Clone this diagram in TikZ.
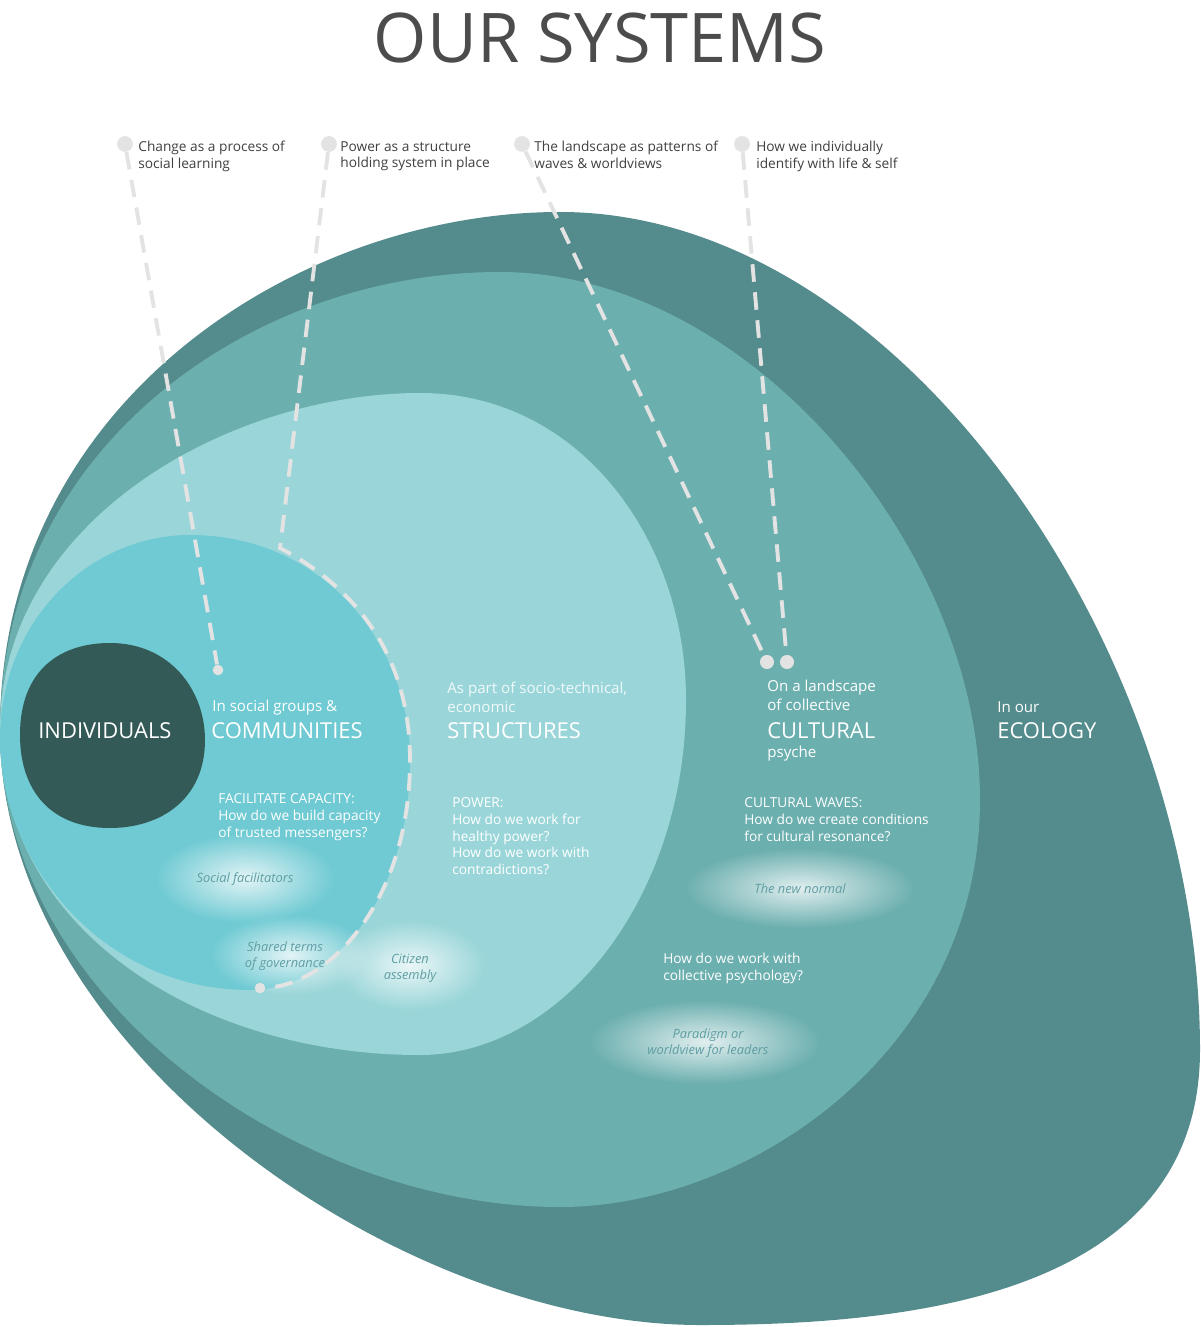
\documentclass[tikz,border=0pt]{standalone}
\usepackage{fontspec}
\setmainfont{Open Sans}
\usetikzlibrary{positioning,fadings}
\definecolor{ecocol}{HTML}{548B8C}
\definecolor{culcol}{HTML}{6CAFAF}
\definecolor{strcol}{HTML}{9AD6D9}
\definecolor{comcol}{HTML}{6FCAD3}
\definecolor{indcol}{HTML}{335A57}
\definecolor{pincol}{HTML}{E3E3E3}
\definecolor{cloudtxt}{HTML}{5E9EA3}
\tikzfading[name=softedge, inner color=transparent!0, outer color=transparent!100]
\tikzset{
  lbl/.style={text=white, font=\fontsize{8.6}{10.5}\selectfont, align=left, anchor=north west, inner sep=0pt},
  qst/.style={lbl, font=\fontsize{7.8}{9.6}\selectfont},
  big/.style={text=white, font=\fontsize{12.5}{15}\selectfont, anchor=north west, inner sep=0pt},
  top/.style={text=black!75, font=\fontsize{7.8}{9.6}\selectfont, align=left, anchor=north west, inner sep=0pt},
  cloud/.style={text=cloudtxt, font=\itshape\fontsize{7.3}{9.3}\selectfont, align=center, inner sep=0pt},
  link/.style={pincol, line width=2.2pt, dash pattern=on 10pt off 6pt},
  pin/.style={fill=pincol, draw=none, circle, minimum size=9pt, inner sep=0pt},
}
\begin{document}
\begin{tikzpicture}[x=0.02cm, y=-0.02cm]
\useasboundingbox (0,0) rectangle (1200,1327);
\node[text=black!70, font=\fontsize{39}{43}\selectfont] (title) at (600,38) {OUR SYSTEMS};

% the blobs
\fill[ecocol] (0,730) .. controls (0,400) and (300,212) .. (560,212) .. controls (900,212) and (1200,650) .. (1200,1050) .. controls (1200,1300) and (900,1325) .. (700,1325) .. controls (400,1325) and (0,1050) .. (0,730);
\fill[culcol] (0,730) .. controls (0,450) and (250,272) .. (500,272) .. controls (750,272) and (980,550) .. (980,800) .. controls (980,1050) and (750,1207) .. (560,1207) .. controls (300,1207) and (0,1000) .. (0,730);
\fill[strcol] (0,730) .. controls (0,520) and (230,393) .. (420,393) .. controls (580,393) and (686,540) .. (686,700) .. controls (686,900) and (560,1055) .. (420,1055) .. controls (200,1055) and (0,930) .. (0,730);
\fill[comcol] (0,740) .. controls (0,620) and (90,535) .. (190,535) .. controls (320,535) and (410,640) .. (410,760) .. controls (410,900) and (330,990) .. (250,990) .. controls (100,990) and (0,860) .. (0,740);
\fill[indcol] (20,735) .. controls (20,670) and (60,643) .. (110,643) .. controls (170,643) and (205,690) .. (205,740) .. controls (205,800) and (160,828) .. (110,828) .. controls (50,828) and (20,790) .. (20,735);

% soft clouds
\foreach \cx/\cy/\rx/\ry in {245/878/90/45, 290/955/80/40, 410/965/75/45, 800/888/115/40, 705/1042/115/42} {
  \fill[white, opacity=0.8, path fading=softedge] (\cx,\cy) ellipse ({\rx} and {\ry});
}

% pins and links
\node[pin] (p1) at (125,144) {};
\node[pin] (p2) at (329,144) {};
\node[pin] (p3) at (522,144) {};
\node[pin] (p4) at (742,144) {};
\node[pin, minimum size=6pt] (d1) at (218,670) {};
\node[pin, minimum size=6pt] (d2) at (260,988) {};
\node[pin, minimum size=8pt] (d3) at (767,662) {};
\node[pin, minimum size=8pt] (d4) at (787,662) {};
\coordinate (bend) at (280,548);
\draw[link] (p1) -- (d1);
\draw[link] (p2) -- (bend) .. controls (360,590) and (410,660) .. (410,760) .. controls (410,900) and (330,985) .. (d2);
\draw[link] (p3) -- (d3);
\draw[link] (p4) -- (d4);

\node[top] (t1) at (138,141) {Change as a process of\\social learning};
\node[top] (t2) at (340,141) {Power as a structure\\holding system in place};
\node[top] (t3) at (534,141) {The landscape as patterns of\\waves \& worldviews};
\node[top] (t4) at (756,141) {How we individually\\identify with life \& self};

% labels
\node[big] (ind) at (38,722) {INDIVIDUALS};
\node[lbl] (comsub) at (212,700) {In social groups \&};
\node[big] (com) at (211,722) {COMMUNITIES};
\node[lbl, text=white!85!strcol] (strsub) at (447,682) {As part of socio-technical,\\economic};
\node[big] (str) at (447,722) {STRUCTURES};
\node[lbl] (culsub) at (767,680) {On a landscape\\of collective};
\node[big] (cul) at (767,722) {CULTURAL};
\node[lbl] (culpsy) at (767,746) {psyche};
\node[lbl] (ecosub) at (997,701) {In our};
\node[big] (eco) at (997,722) {ECOLOGY};

\node[qst] (q1) at (218,793) {FACILITATE CAPACITY:\\How do we build capacity\\of trusted messengers?};
\node[qst] (q2) at (452,797) {POWER:\\How do we work for\\healthy power?\\How do we work with\\contradictions?};
\node[qst] (q3) at (744,797) {CULTURAL WAVES:\\How do we create conditions\\for cultural resonance?};
\node[qst] (q4) at (663,953) {How do we work with\\collective psychology?};

\node[cloud] (c1) at (245,879) {Social facilitators};
\node[cloud] (c2) at (285,956) {Shared terms\\of governance};
\node[cloud] (c3) at (410,968) {Citizen\\assembly};
\node[cloud] (c4) at (800,889) {The new normal};
\node[cloud] (c5) at (708,1043) {Paradigm or\\worldview for leaders};
\end{tikzpicture}
\end{document}
